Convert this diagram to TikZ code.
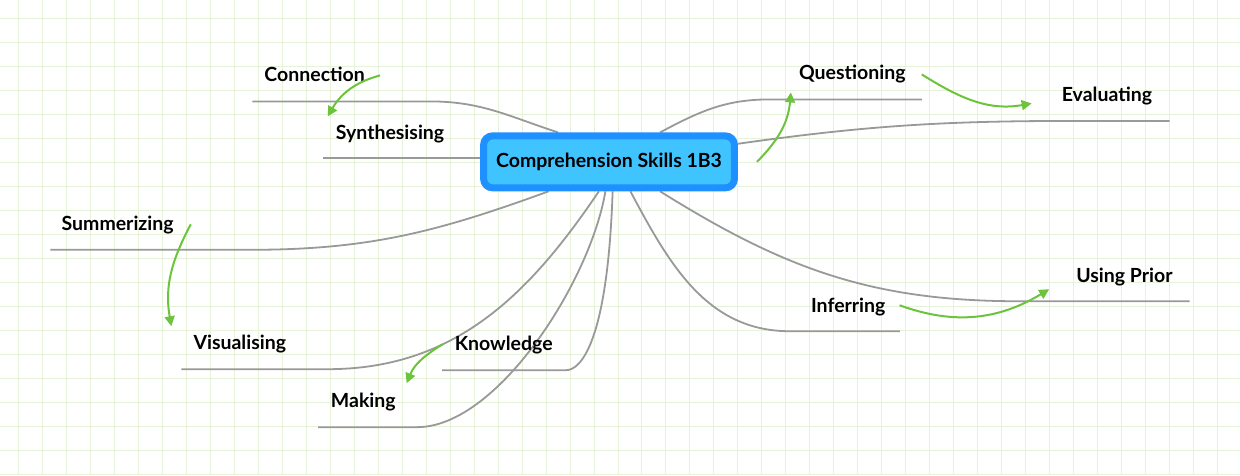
\documentclass[tikz,border=0pt]{standalone}
\usepackage{fontspec}
\setmainfont{Lato}
\usetikzlibrary{arrows.meta,backgrounds}
\definecolor{rootfill}{HTML}{40C4FF}
\definecolor{rootline}{HTML}{1E90FF}
\definecolor{branchgray}{HTML}{999999}
\definecolor{flowgreen}{HTML}{6CC43C}
\definecolor{gridgreen}{HTML}{E6F2DA}
\begin{document}
\begin{tikzpicture}[x=1pt,y=1pt,
 rootbox/.style={draw=rootline,fill=rootfill,line width=7pt,rounded corners=9pt,
                 minimum width=251pt,minimum height=52pt,inner sep=0pt,
                 font=\bfseries\fontsize{19.5}{23}\selectfont},
 lbl/.style={anchor=base west,inner sep=0pt,font=\bfseries\fontsize{19.5}{23}\selectfont},
 branch/.style={draw=branchgray,line width=1.8pt},
 flow/.style={draw=flowgreen,line width=2pt,-{Triangle[length=10pt,width=10pt]}},
 gridline/.style={draw=gridgreen,line width=1pt}]
 \node[rootbox] (root) at (609,-161.5) {Comprehension Skills 1B3};
 \node[lbl] (conn) at (264,-81) {Connection};
 \node[lbl] (synth) at (335.5,-139) {Synthesising};
 \node[lbl] (summ) at (61,-230.5) {Summerizing};
 \node[lbl] (visu) at (193,-349) {Visualising};
 \node[lbl] (mak) at (330.5,-407) {Making};
 \node[lbl] (know) at (454.5,-350.5) {Knowledge};
 \node[lbl] (infer) at (811,-312.5) {Inferring};
 \node[lbl] (prior) at (1076.5,-282.5) {Using Prior};
 \node[lbl] (evalu) at (1062,-101.5) {Evaluating};
 \node[lbl] (quest) at (799,-79.5) {Questioning};
 % free ends of the branches
 \coordinate (connE) at (252,-101);
 \coordinate (synthE) at (323,-158);
 \coordinate (summE) at (50,-249.5);
 \coordinate (visuE) at (181,-369);
 \coordinate (makE) at (318,-427);
 \coordinate (knowE) at (442,-370);
 \coordinate (inferE) at (900,-331);
 \coordinate (priorE) at (1190,-301);
 \coordinate (evaluE) at (1170,-120.5);
 \coordinate (questE) at (922,-99);
 \begin{scope}[on background layer]
  \fill[white] (0,0) rectangle (1240,-475);
  \draw[gridline,shift={(18,-18)}] (-18,18) grid[step=24pt] (1222,-457);
  \draw[branch] (connE) -- ++(178,0) to[out=0,in=162] (root.150);
  \draw[branch] (synthE) -- (synthE -| root.west);
  \draw[branch] (summE) -- ++(200,0) to[out=0,in=200] (root.206);
  \draw[branch] (visuE) -- ++(146,0) to[out=0,in=236] (root.251);
  \draw[branch] (makE) -- ++(99,0) .. controls +(80,0) and +(-15,-90) .. (root.263);
  \draw[branch] (knowE) -- ++(124,0) .. controls +(15,0) and +(-5,-150) .. (root.277);
  \draw[branch] (inferE) -- ++(-110,0) to[out=180,in=-62] (root.306);
  \draw[branch] (priorE) -- ++(-170,0) to[out=180,in=-32] (root.330);
  \draw[branch] (evaluE) -- ++(-90,0) to[out=180,in=8] (root.8);
  \draw[branch] (questE) -- ++(-152,0) to[out=180,in=28] (root.30);
 \end{scope}
 \draw[flow] ([shift={(15,6)}]conn.base east) to[out=195,in=60]
   ([shift={(-8,23)}]synth.base west);
 \draw[flow] ([shift={(16,5.5)}]quest.base east) to[out=-32,in=190]
   ([shift={(-30,-1.5)}]evalu.base west);
 \draw[flow] ([xshift=19]root.east) to[out=45,in=-95]
   ([shift={(-8,-12.5)}]quest.base west);
 \draw[flow] ([shift={(17,6.5)}]summ.base east) to[out=242,in=100]
   ([shift={(-22,23)}]visu.base west);
 \draw[flow] ([shift={(-12,6.5)}]know.base west) to[out=212,in=68]
   ([shift={(76,24)}]mak.base west);
 \draw[flow] ([shift={(14,7.5)}]infer.base east) to[out=-20,in=211]
   ([shift={(-27,-6.5)}]prior.base west);
\end{tikzpicture}
\end{document}
